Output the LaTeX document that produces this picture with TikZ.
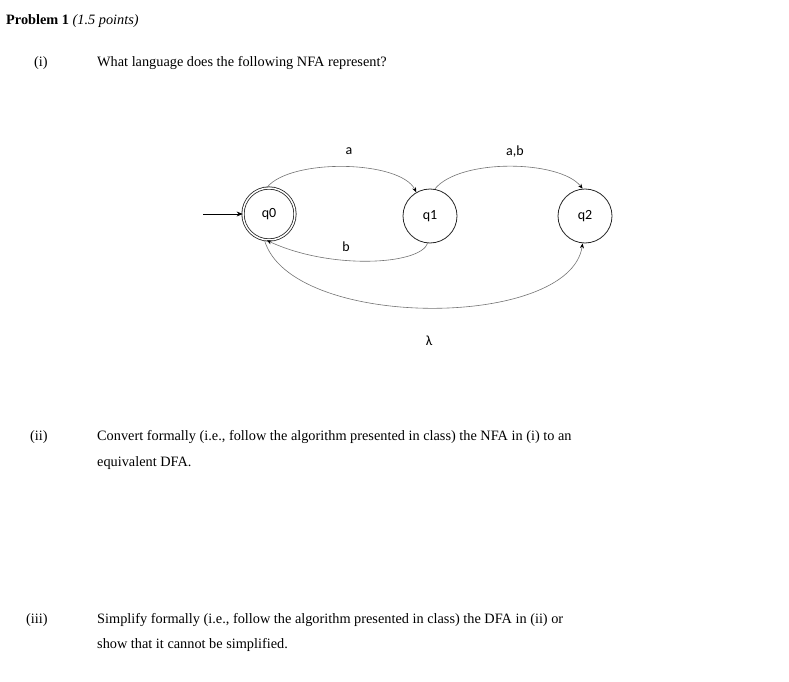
\documentclass[tikz,border=0pt]{standalone}
\usepackage{fontspec}
\setmainfont{Liberation Serif}
\newfontfamily\carlitofont{Carlito}
\usetikzlibrary{arrows.meta}
\begin{document}
\begin{tikzpicture}[x=1pt,y=-1pt,
  st/.style={circle,draw=black!85,line width=0.8pt,minimum size=54pt,inner sep=0pt,font=\carlitofont\fontsize{14}{16}\selectfont},
  tr/.style={draw=black!55,line width=0.6pt,-{Stealth[length=5pt,width=4pt,black]}},
  lb/.style={font=\carlitofont\fontsize{14}{16}\selectfont},
  tx/.style={anchor=base west,font=\fontsize{14.3}{17}\selectfont,inner sep=0pt}]
\useasboundingbox (0,0) rectangle (789,682);
\node[tx] (title) at (6,25) {\textbf{Problem 1} \textit{(1.5 points)}};
\node[tx] (i) at (34,67) {(i)};
\node[tx] (ti) at (97,67) {What language does the following NFA represent?};
\node[st,double,double distance=1.5pt,minimum size=52pt] (q0) at (269,214) {q0};
\node[st] (q1) at (430,216) {q1};
\node[st] (q2) at (585,216) {q2};
\coordinate (s) at (203,214);
\draw[line width=0.8pt,-{Stealth[length=6pt,width=5pt]}] (s) -- (q0.west);
\draw[tr] (q0.95) .. controls (290,158) and (400,160) .. (q1.120);
\node[lb] (la) at (349,151) {a};
\draw[tr] (q1.80) .. controls (460,158) and (560,160) .. (q2.95);
\node[lb] (lab) at (515,152) {a,b};
\draw[tr] (q1.265) .. controls (420,265) and (330,270) .. (q0.265);
\node[lb] (lbb) at (346,247) {b};
\draw[tr] (q0.260) .. controls (290,330) and (570,330) .. (q2.265);
\node[lb] (ll) at (429,341) {λ};
\node[tx] (ii) at (30,440) {(ii)};
\node[tx] (tii) at (97,440) {Convert formally (i.e., follow the algorithm presented in class) the NFA in (i) to an};
\node[tx] (tii2) at (97,466) {equivalent DFA.};
\node[tx] (iii) at (26,623) {(iii)};
\node[tx] (tiii) at (97,623) {Simplify formally (i.e., follow the algorithm presented in class) the DFA in (ii) or};
\node[tx] (tiii2) at (97,648) {show that it cannot be simplified.};
\end{tikzpicture}
\end{document}
